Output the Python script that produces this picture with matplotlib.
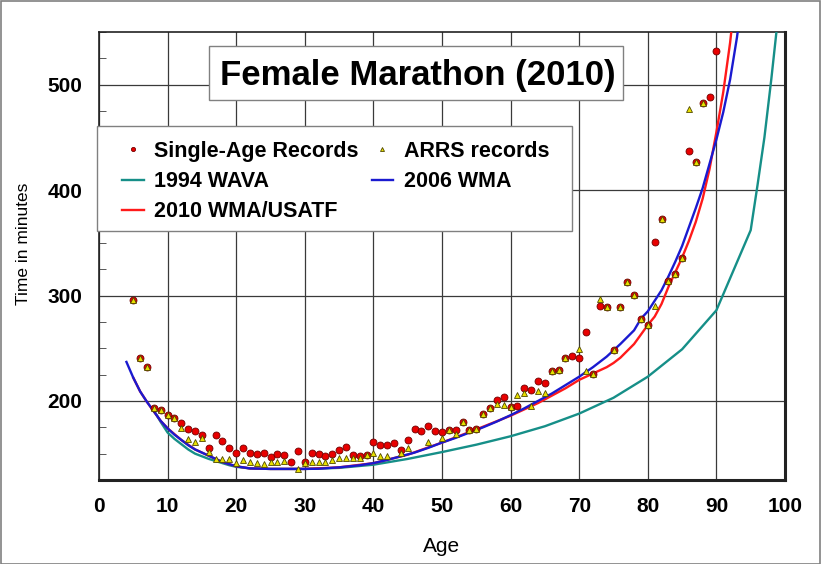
import matplotlib
matplotlib.use("Agg")
import matplotlib.pyplot as plt
from matplotlib.patches import Rectangle
from matplotlib.ticker import MultipleLocator

plt.rcParams['font.family'] = ['Liberation Sans', 'DejaVu Sans']

# ---------- data ----------
single_ages = [5, 6, 7, 8, 9, 10, 11, 12, 13, 14, 15, 16, 17, 18, 19, 20,
               21, 22, 23, 24, 25, 26, 27, 28, 29, 30, 31, 32, 33, 34, 35,
               36, 37, 38, 39, 40, 41, 42, 43, 44, 45, 46, 47, 48, 49, 50,
               51, 52, 53, 54, 55, 56, 57, 58, 59, 60, 61, 62, 63, 64, 65,
               66, 67, 68, 69, 70, 71, 72, 73, 74, 75, 76, 77, 78, 79, 80,
               81, 82, 83, 84, 85, 86, 87, 88, 89, 90]
single_times = [296, 241, 232, 193.5, 191.5, 187, 184, 178.7, 173.6, 171.4,
                167.4, 155, 167.4, 162.3, 155, 151, 155, 151, 150, 150.5,
                146.5, 150, 148.7, 141.7, 152.5, 142, 151, 150, 148, 149.6,
                153, 156.6, 148.7, 148, 148.3, 160.7, 158.5, 157.8, 159.7,
                153, 162.9, 173.3, 171.7, 176.2, 171.7, 170.5, 172.4, 172,
                180.3, 172.7, 173, 187.6, 193.3, 201.2, 204, 194, 195.4,
                211.9, 210.3, 218.9, 216.7, 228.7, 229.6, 241, 243, 241,
                265.7, 225.8, 290, 288.8, 248.3, 289.4, 312.8, 300.5, 278,
                271.7, 351, 372.9, 313.8, 320.4, 336, 437, 426.4, 482.3,
                488, 532.3]

arrs_ages = [5, 6, 7, 8, 9, 10, 11, 12, 13, 14, 15, 16, 17, 18, 19, 20, 21,
             22, 23, 24, 25, 26, 27, 29, 30, 31, 32, 33, 34, 35, 36, 37, 38,
             39, 40, 41, 42, 44, 45, 48, 50, 51, 52, 53, 54, 55, 56, 57, 58,
             59, 60, 61, 62, 63, 64, 65, 66, 67, 68, 70, 71, 72, 73, 74, 75,
             76, 77, 78, 79, 80, 81, 82, 83, 84, 85, 86, 87, 88]
arrs_times = [296, 241, 232, 193.5, 191.5, 187, 184, 174, 164, 161.3, 165,
              152, 144.6, 144.6, 144.6, 141, 143.6, 142, 141.5, 140, 142,
              141.8, 143, 135.7, 141.5, 142, 142, 142.3, 144, 145.8, 145.8,
              145.5, 145.5, 148.3, 151, 147.7, 148, 151, 155.6, 161.3, 164.5,
              172.4, 168.9, 180.3, 172.7, 173, 187.6, 193.3, 197.4, 195.8,
              194, 205.2, 208, 195.4, 209.7, 208, 228.7, 229.6, 241, 248.9,
              228, 225.8, 296.4, 288.8, 248.3, 289.4, 312.8, 300.5, 278,
              271.7, 289.8, 372.9, 313.8, 320.4, 336, 476.6, 426.4, 482.3]

wava_ages = [8, 9, 10, 11, 12, 13, 14, 15, 16, 17, 18, 19, 20, 22, 25, 30,
             35, 40, 45, 50, 55, 60, 65, 70, 75, 80, 85, 90, 95, 96, 97, 98,
             99]
wava_times = [191, 180, 170, 164, 159, 154, 150, 147.5, 145, 143, 141, 139,
              137.5, 136, 135.5, 135.5, 136.5, 139.5, 145, 151.5, 158.5,
              166.5, 176, 188, 203, 223, 249, 286, 362, 405, 450, 505, 565]

wma06_ages = [4, 5, 6, 7, 8, 9, 10, 11, 12, 13, 14, 15, 16, 17, 18, 19, 20,
              21, 22, 25, 30, 32, 35, 38, 40, 42, 44, 46, 48, 50, 52, 54, 56,
              58, 60, 62, 64, 66, 68, 70, 72, 74, 75, 76, 78, 79, 80, 81, 82,
              83, 84, 85, 86, 87, 88, 89, 90, 91, 92, 93, 93.5]
wma06_times = [237, 222, 209, 199, 190, 181, 174, 168, 163, 158, 154, 151,
               148, 145, 142, 140, 138, 137, 136, 135.5, 135.5, 135.7, 137,
               139, 141, 144, 147.5, 151, 155.5, 160.5, 165, 170, 175, 180.5,
               186.5, 193, 200, 207, 215, 223, 232, 242, 248, 254, 267, 278,
               285, 295, 305, 318, 332, 347, 365, 383, 402, 425, 448, 474,
               505, 545, 570]

wma10_ages = [5, 6, 7, 8, 9, 10, 12, 14, 16, 18, 20, 22, 25, 30, 35, 40, 45,
              50, 55, 60, 62, 64, 66, 68, 70, 72, 74, 75, 76, 78, 80, 81, 82,
              83, 84, 85, 86, 87, 88, 89, 90, 91, 92, 92.5]
wma10_times = [222, 209, 199, 190, 181, 174, 163, 154, 148, 142, 138, 136,
               135.5, 135.5, 137, 141, 149, 160.5, 173, 186, 192, 198, 205,
               212, 220, 226, 232, 236, 241, 254, 272, 280, 292, 308, 322,
               336, 352, 370, 392, 420, 455, 493, 540, 570]

# ---------- figure ----------
W, H = 821, 564
fig = plt.figure(figsize=(W / 100, H / 100), dpi=100)
fig.patches.append(Rectangle((0.5 / W, 0.5 / H), 1 - 1.5 / W, 1 - 1.5 / H,
                             transform=fig.transFigure, fill=False,
                             edgecolor='#808080', linewidth=1.2))

ax = fig.add_axes([99 / W, 1 - 480 / H, (785 - 99) / W, (480 - 32) / H])

ax.plot(wava_ages, wava_times, color='#168f88', lw=1.7, zorder=3,
        label='1994 WAVA')
ax.plot(wma10_ages, wma10_times, color='#ff1a1a', lw=1.7, zorder=3,
        label='2010 WMA/USATF')
ax.plot(wma06_ages, wma06_times, color='#1a1ad0', lw=1.7, zorder=4,
        label='2006 WMA')
ax.plot(single_ages, single_times, ls='none', marker='o', ms=5,
        mfc='#e80000', mec='#700000', mew=0.6, zorder=5,
        label='Single-Age Records')
ax.plot(arrs_ages, arrs_times, ls='none', marker='^', ms=4.8,
        mfc='#e8e000', mec='#504800', mew=0.6, zorder=6,
        label='ARRS records')

ax.set_xlim(0, 100)
ax.set_ylim(125, 550)
ax.xaxis.set_major_locator(MultipleLocator(10))
ax.yaxis.set_major_locator(MultipleLocator(100))
ax.yaxis.set_minor_locator(MultipleLocator(25))
ax.grid(True, which='major', color='#3a3a3a', lw=0.9)
ax.set_axisbelow(True)
ax.tick_params(axis='both', which='major', length=0, pad=12,
               labelsize=15)
ax.tick_params(axis='y', which='minor', direction='in', length=5,
               color='#3a3a3a')
for lab in ax.get_xticklabels() + ax.get_yticklabels():
    lab.set_fontweight('bold')

for side in ['left', 'top']:
    ax.spines[side].set_color('#222222')
    ax.spines[side].set_linewidth(1.2)
for side in ['right', 'bottom']:
    ax.spines[side].set_color('#222222')
    ax.spines[side].set_linewidth(2.2)

fig.text(24 / W, 1 - 244 / H, 'Time in minutes', rotation=90,
         ha='center', va='center', fontsize=12.5)
fig.text(442 / W, 1 - 547 / H, 'Age', ha='center', va='center',
         fontsize=15)

# title box
fig.patches.append(Rectangle((209 / W, 1 - 100 / H), (623 - 209) / W,
                             (100 - 46) / H, transform=fig.transFigure,
                             facecolor='white', edgecolor='#808080',
                             linewidth=1.0, zorder=10))
fig.text(418 / W, 1 - 85 / H, 'Female Marathon (2010)', ha='center',
         va='baseline', fontsize=25, fontweight='bold', zorder=11)

# legend box
fig.patches.append(Rectangle((97 / W, 1 - 231 / H), (572 - 97) / W,
                             (231 - 126) / H, transform=fig.transFigure,
                             facecolor='white', edgecolor='#808080',
                             linewidth=1.0, zorder=10))
handles, labels = ax.get_legend_handles_labels()
order = ['Single-Age Records', '1994 WAVA', '2010 WMA/USATF',
         'ARRS records', '2006 WMA']
hmap = dict(zip(labels, handles))
leg = fig.legend([hmap[k] for k in order], order, ncol=2,
                 loc='upper left', bbox_to_anchor=(122 / W, 1 - 141 / H),
                 frameon=False, prop={'weight': 'bold', 'size': 15.5},
                 handlelength=1.0, handletextpad=0.5, columnspacing=0.6,
                 labelspacing=0.42, markerscale=0.6, borderpad=0,
                 borderaxespad=0)
leg.set_zorder(12)

fig.savefig('out.png', dpi=100)
